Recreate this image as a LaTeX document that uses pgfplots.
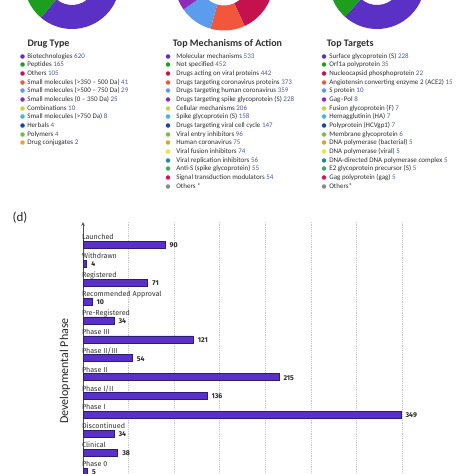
\documentclass[border=0pt]{standalone}
\usepackage{pgfplots}
\pgfplotsset{compat=1.18}
\usepackage{pgfplotstable}
\usepackage{fontspec}
\setmainfont{Carlito}
\newfontfamily\fira{Fira Sans}
\newfontfamily\dejavu{DejaVu Sans}
\definecolor{c1}{HTML}{5A31C4}
\definecolor{c2}{HTML}{1E9E1E}
\definecolor{c3}{HTML}{C5124F}
\definecolor{c4}{HTML}{F2563B}
\definecolor{c5}{HTML}{5C9CEF}
\definecolor{c6}{HTML}{8E2BB8}
\definecolor{c7}{HTML}{C9D33C}
\definecolor{c8}{HTML}{3DB6E2}
\definecolor{c9}{HTML}{1D3FB5}
\definecolor{c10}{HTML}{78BE43}
\definecolor{c11}{HTML}{EFA02E}
\definecolor{c11b}{HTML}{D9A326}
\definecolor{c12}{HTML}{EEE33A}
\definecolor{c13}{HTML}{1F8A9A}
\definecolor{c14}{HTML}{33B15A}
\definecolor{c15}{HTML}{DE1050}
\definecolor{c16}{HTML}{8A8A8A}
\definecolor{txt}{HTML}{2E2E2E}
\definecolor{val}{HTML}{4A5A9A}
\definecolor{barfill}{HTML}{5A30C8}
\definecolor{baredge}{HTML}{2B1B7A}

\pgfplotstableread[col sep=comma]{
y,x,label
0,90,Launched
1,4,Withdrawn
2,71,Registered
3,10,Recommended Approval
4,34,Pre-Registered
5,121,Phase III
6,54,Phase II/III
7,215,Phase II
8,136,Phase I/II
9,349,Phase I
10,34,Discontinued
11,38,Clinical
12,5,Phase 0
}\phases

% donut: cx, cy (pt, tikz coords), rin, rout, list value/colour
\newcommand\donut[5]{%
  \xdef\tot{0}%
  \foreach \v/\c in {#5} {\pgfmathsetmacro\t{\tot+\v}\xdef\tot{\t}}%
  \xdef\cum{0}%
  \foreach \v/\c in {#5} {%
    \pgfmathsetmacro\aa{90-\cum/\tot*360}%
    \pgfmathsetmacro\ab{90-(\cum+\v)/\tot*360}%
    \fill[\c] ([shift={(\aa:#4pt)}]#1pt,#2pt) arc[start angle=\aa,end angle=\ab,radius=#4pt]
      -- ([shift={(\ab:#3pt)}]#1pt,#2pt) arc[start angle=\ab,end angle=\aa,radius=#3pt] -- cycle;
    \pgfmathsetmacro\t{\cum+\v}\xdef\cum{\t}%
  }%
}

% legend row: x, image-y of row centre, gap, colour, text, value
\newcommand\leg[6]{%
  \node[anchor=base west, inner sep=0pt, text=txt, font=\fontsize{7}{8}\selectfont]
    at (#1pt, {474-#2-2.3}) {\textcolor{#4}{\dejavu\fontsize{5.8}{5.8}\selectfont ●}\hspace{#3pt}#5 \textcolor{val}{#6}};}

\begin{document}
\begin{tikzpicture}[x=1pt,y=1pt]
\useasboundingbox (0,0) rectangle (474,474);
\begin{scope}
\clip (0,0) rectangle (474,474);
% donuts (top parts are outside the reference crop)
\donut{72}{493}{24}{48}{620/c1,165/c2,105/c3,41/c4,29/c5,25/c6,10/c7,8/c8,4/c9,4/c10,2/c11}
\donut{224}{493}{24.5}{49.5}{533/c1,452/c2,442/c3,373/c4,359/c5,228/c6,206/c7,158/c8,147/c9,96/c10,75/c11b,74/c12,56/c13,55/c14,54/c15}
\donut{377}{493}{24}{48}{228/c1,35/c2,22/c3,15/c4,10/c5,8/c6,7/c7,7/c8,7/c9,6/c10,5/c11b,5/c12,5/c13,5/c14,5/c15}

% titles
\node[anchor=base west, inner sep=0pt, text=txt, font=\fontsize{10}{11}\selectfont\bfseries] at (27.3, 474-46.5) {Drug Type};
\node[anchor=base west, inner sep=0pt, text=txt, font=\fontsize{10}{11}\selectfont\bfseries] at (172.7, 474-46.5) {Top Mechanisms of Action};
\node[anchor=base west, inner sep=0pt, text=txt, font=\fontsize{10}{11}\selectfont\bfseries] at (326.7, 474-46.5) {Top Targets};

% Drug type legend
\leg{19.8}{56}{2.3}{c1}{Biotechnologies}{620}
\leg{19.8}{64.67}{2.3}{c2}{Peptides}{165}
\leg{19.8}{73.33}{2.3}{c3}{Others}{105}
\leg{19.8}{82}{2.3}{c4}{Small molecules (>350 – 500 Da)}{41}
\leg{19.8}{90.67}{2.3}{c5}{Small molecules (>500 – 750 Da)}{29}
\leg{19.8}{99.33}{2.3}{c6}{Small molecules (0 – 350 Da)}{25}
\leg{19.8}{108}{2.3}{c7}{Combinations}{10}
\leg{19.8}{116.67}{2.3}{c8}{Small molecules (>750 Da)}{8}
\leg{19.8}{125.33}{2.3}{c9}{Herbals}{4}
\leg{19.8}{134}{2.3}{c10}{Polymers}{4}
\leg{19.8}{142.67}{2.3}{c11}{Drug conjugates}{2}

% mechanisms legend
\leg{165.3}{56}{5.8}{c1}{Molecular mechanisms}{533}
\leg{165.3}{64.67}{5.8}{c2}{Not specified}{452}
\leg{165.3}{73.33}{5.8}{c3}{Drugs acting on viral proteins}{442}
\leg{165.3}{82}{5.8}{c4}{Drugs targeting coronavirus proteins}{373}
\leg{165.3}{90.67}{5.8}{c5}{Drugs targeting human coronavirus}{359}
\leg{165.3}{99.33}{5.8}{c6}{Drugs targeting spike glycoprotein (S)}{228}
\leg{165.3}{108}{5.8}{c7}{Cellular mechanisms}{206}
\leg{165.3}{116.67}{5.8}{c8}{Spike glycoprotein (S)}{158}
\leg{165.3}{125.33}{5.8}{c9}{Drugs targeting viral cell cycle}{147}
\leg{165.3}{134}{5.8}{c10}{Viral entry inhibitors}{96}
\leg{165.3}{142.67}{5.8}{c11b}{Human coronavirus}{75}
\leg{165.3}{151.33}{5.8}{c12}{Viral fusion inhibitors}{74}
\leg{165.3}{160}{5.8}{c13}{Viral replication inhibitors}{56}
\leg{165.3}{168.67}{5.8}{c14}{Anti-S (spike glycoprotein)}{55}
\leg{165.3}{177.33}{5.8}{c15}{Signal transduction modulators}{54}
\leg{165.3}{186}{5.8}{c16}{Others *}{}

% targets legend
\leg{321.3}{56}{2.8}{c1}{Surface glycoprotein (S)}{228}
\leg{321.3}{64.67}{2.8}{c2}{Orf1a polyprotein}{35}
\leg{321.3}{73.33}{2.8}{c3}{Nucleocapsid phosphoprotein}{22}
\leg{321.3}{82}{2.8}{c4}{Angiotensin converting enzyme 2 (ACE2)}{15}
\leg{321.3}{90.67}{2.8}{c5}{S protein}{10}
\leg{321.3}{99.33}{2.8}{c6}{Gag–Pol}{8}
\leg{321.3}{108}{2.8}{c7}{Fusion glycoprotein (F)}{7}
\leg{321.3}{116.67}{2.8}{c8}{Hemagglutinin (HA)}{7}
\leg{321.3}{125.33}{2.8}{c9}{Polyprotein (HCVgp1)}{7}
\leg{321.3}{134}{2.8}{c10}{Membrane glycoprotein}{6}
\leg{321.3}{142.67}{2.8}{c11b}{DNA polymerase (bacterial)}{5}
\leg{321.3}{151.33}{2.8}{c12}{DNA polymerase (viral)}{5}
\leg{321.3}{160}{2.8}{c13}{DNA-directed DNA polymerase complex}{5}
\leg{321.3}{168.67}{2.8}{c14}{E2 glycoprotein precursor (S)}{5}
\leg{321.3}{177.33}{2.8}{c15}{Gag polyprotein (gag)}{5}
\leg{321.3}{186}{2.8}{c16}{Others*}{}

% panel (d)
\node[text=black!85, font=\fontsize{13}{14}\selectfont] at (20, 474-218) {(d)};
\node[rotate=90, text=black!85, font=\fontsize{12}{13}\selectfont] at (65, 474-371) {Developmental Phase};

\begin{axis}[
  at={(83pt,-9pt)}, anchor=south west,
  scale only axis, width=364.4pt, height=260.8pt,
  xmin=0, xmax=400, ymin=-1.2, ymax=12.6, y dir=reverse,
  axis lines=left,
  x axis line style={draw=none},
  y axis line style={draw=black!70, line width=0.6pt, stealth-},
  xtick={50,100,...,350}, xticklabels={},
  major x tick style={draw=none},
  xmajorgrids, grid style={draw=black!22, dash pattern=on 1.2pt off 1pt, line width=0.5pt},
  ytick={0,...,12},
  yticklabels from table={\phases}{label},
  major y tick style={draw=none},
  yticklabel style={anchor=base west, inner sep=0pt, xshift=1pt, yshift=5pt,
     font=\fontsize{7.2}{8}\selectfont\fira, text=black!80},
  /pgf/number format/assume math mode=true,
  clip=false,
]
\addplot[xbar, bar width=7pt, fill=barfill, draw=baredge, line width=0.6pt,
  nodes near coords,
  nodes near coords style={font=\fontsize{7}{8}\selectfont\fira\bfseries, text=black!85, anchor=west, xshift=1pt, yshift=-0.5pt}]
  table[x=x, y=y] {\phases};
\end{axis}
\end{scope}
\end{tikzpicture}
\end{document}
